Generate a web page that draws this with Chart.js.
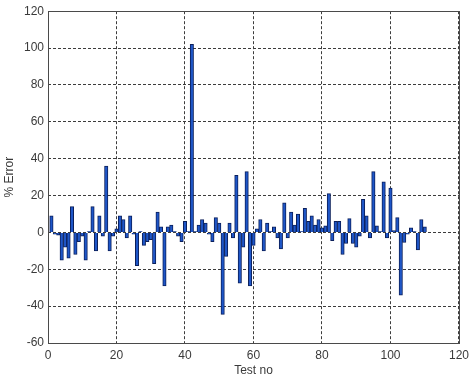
<!DOCTYPE html>
<html><head><meta charset="utf-8">
<script src="https://cdn.jsdelivr.net/npm/chart.js@4"></script>
<style>html,body{margin:0;padding:0;background:#fff;}</style>
</head><body>
<canvas id="c" width="474" height="387"></canvas>
<script>
const testNo = [1,2,3,4,5,6,7,8,9,10,11,12,13,14,15,16,17,18,19,20,
21,22,23,24,25,26,27,28,29,30,31,32,33,34,35,36,37,38,39,40,
41,42,43,44,45,46,47,48,49,50,51,52,53,54,55,56,57,58,59,60,
61,62,63,64,65,66,67,68,69,70,71,72,73,74,75,76,77,78,79,80,
81,82,83,84,85,86,87,88,89,90,91,92,93,94,95,96,97,98,99,100,
101,102,103,104,105,106,107,108,109,110];
const errorPct = [9,-1,-1.5,-15,-8,-14,14,-12,-5,-2,
-15,0.5,14,-10,9,-2,36,-10,-2,2,
9,7,-3,9,-1,-18,0.5,-7,-5,-4,
-17,11,3,-29,3,4,0.5,-2,-5,6,
0.5,102,0.5,4,7,5,-1,-5,8,5,
-44.5,-13,5,-3,31,-27.5,-8,33,-29,-7,
2,7,-10,5,0.5,3,-3,-9,16,-3,
11,4,10,0.5,13,6,9,4,7,2.5,
3.5,21,-4.5,6,6,-12,-6,7.5,-6,-8,
-2,18,9,-3,33,3.5,0.5,27.5,-3,24,
1,8,-34,-5.5,-1,2.5,0.5,-9.5,7,3];
const xTickLabels = [0,20,40,60,80,100,120];
const yTickLabels = [-60,-40,-20,0,20,40,60,80,100,120];

const font = {family: '"Liberation Sans", Arial, sans-serif', size: 12};
const textColor = '#3a3a3a';

const framePlugin = {
  id: 'frame',
  afterDatasetsDraw(chart) {
    const {ctx, chartArea: a} = chart;
    ctx.save();
    ctx.strokeStyle = '#4a4a4a';
    ctx.lineWidth = 1;
    ctx.setLineDash([]);
    ctx.strokeRect(Math.round(a.left) + 0.5, Math.round(a.top) + 0.5,
      Math.round(a.right - a.left), Math.round(a.bottom - a.top));
    ctx.restore();
  }
};

new Chart(document.getElementById('c'), {
  type: 'bar',
  data: {
    datasets: [{
      data: testNo.map((x, i) => ({x: x, y: errorPct[i]})),
      backgroundColor: '#1e56c8',
      borderColor: '#0b1f5a',
      borderWidth: 1,
      barPercentage: 1.0,
      categoryPercentage: 1.0
    }]
  },
  options: {
    responsive: false,
    animation: false,
    devicePixelRatio: 1,
    layout: {padding: {top: 8, right: 12, left: 0, bottom: 0}},
    plugins: {legend: {display: false}, tooltip: {enabled: false}},
    scales: {
      x: {
        type: 'linear',
        offset: false,
        min: 0, max: 120,
        afterBuildTicks: s => { s.ticks = xTickLabels.map(v => ({value: v})); },
        afterFit: s => { s.height = 44; },
        grid: {offset: false, color: '#3c3c3c', lineWidth: 1, drawTicks: false},
        border: {display: false, dash: [3, 2]},
        ticks: {font: font, color: textColor, padding: 5, maxRotation: 0},
        title: {display: true, text: 'Test no', font: font, color: textColor, padding: {top: 0, bottom: 9}}
      },
      y: {
        min: -60, max: 120,
        afterBuildTicks: s => { s.ticks = yTickLabels.map(v => ({value: v})); },
        afterFit: s => { s.width = 48; },
        grid: {color: '#3c3c3c', lineWidth: 1, drawTicks: false},
        border: {display: false, dash: [3, 2]},
        ticks: {font: font, color: textColor, padding: 4},
        title: {display: true, text: '% Error', font: font, color: textColor, padding: {top: 2, bottom: 0}}
      }
    }
  },
  plugins: [framePlugin]
});
</script>
</body></html>
